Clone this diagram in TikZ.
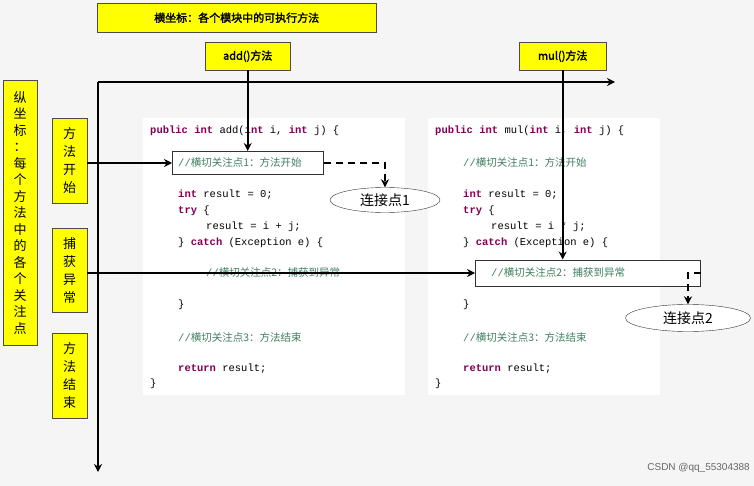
\documentclass[tikz,border=0pt]{standalone}
\usepackage{fontspec}
\setmonofont{Liberation Mono}
\setmainfont{Liberation Sans}
\newfontfamily\cjk{Noto Sans CJK SC}
\newfontfamily\cjkb[FakeBold=2]{Noto Sans CJK SC}
\usetikzlibrary{arrows.meta,shapes.geometric}
\definecolor{kw}{RGB}{127,0,85}
\definecolor{cm}{RGB}{63,127,95}
\definecolor{yel}{RGB}{255,255,0}
\tikzset{
 ybox/.style={draw=black!70,fill=yel,inner sep=0pt,align=center,font=\cjkb\fontsize{11}{15}\selectfont},
 code/.style={anchor=west,inner sep=0pt,font=\ttfamily\fontsize{10.5}{12}\selectfont},
 cbox/.style={draw=black!80,line width=1pt,inner sep=0pt,anchor=west},
 ax/.style={line width=2pt,-{Stealth[length=8pt,width=8pt]}},
 dsh/.style={line width=2pt,dash pattern=on 7pt off 5pt,-{Stealth[length=8pt,width=8pt]}},
 ell/.style={ellipse,draw=black!80,fill=white,inner sep=0pt,font=\cjk\fontsize{14}{16}\selectfont}
}
\newcommand{\kw}[1]{\textcolor{kw}{\textbf{#1}}}
\newcommand{\cmt}[1]{\textcolor{cm}{//{\cjk #1}}}
\begin{document}
\begin{tikzpicture}[x=1pt,y=-1pt]
\useasboundingbox (0,0) rectangle (754,486);
\fill[black!4] (0,0) rectangle (754,486);
% top labels
\node[ybox,minimum width=279,minimum height=29,anchor=north west] (top) at (97,3) {横坐标：各个模块中的可执行方法};
\node[ybox,minimum width=85,minimum height=28,anchor=north west] (add) at (205,42) {add()方法};
\node[ybox,minimum width=87,minimum height=28,anchor=north west] (mul) at (519,42) {mul()方法};
\node[ybox,minimum width=34,minimum height=265,anchor=north west,font=\cjk\fontsize{13}{16.5}\selectfont] (left) at (3,80) {纵\\坐\\标\\：\\每\\个\\方\\法\\中\\的\\各\\个\\关\\注\\点};
\node[ybox,minimum width=35,minimum height=85,anchor=north west,font=\cjk\fontsize{13}{18}\selectfont] (s1) at (52,118) {方\\法\\开\\始};
\node[ybox,minimum width=35,minimum height=84,anchor=north west,font=\cjk\fontsize{13}{18}\selectfont] (s2) at (52,228) {捕\\获\\异\\常};
\node[ybox,minimum width=35,minimum height=85,anchor=north west,font=\cjk\fontsize{13}{18}\selectfont] (s3) at (52,333) {方\\法\\结\\束};
% code panels
\fill[white] (143,118) rectangle (405,395);
\fill[white] (428,118) rectangle (660,395);
% axes
\coordinate (o) at (98,82);
\coordinate (xe) at (615,82);
\coordinate (ye) at (98,472);
\draw[ax] (o) -- (xe);
\draw[ax] (o) -- (ye);
% panel 1
\node[code] at (150,131) {\kw{public} \kw{int} add(\kw{int} i, \kw{int} j) \{};
\node[cbox,minimum width=151,minimum height=23] (b1) at (172,163) {};
\node[code] at (178,163) {\cmt{横切关注点1：方法开始}};
\node[code] at (178,195) {\kw{int} result = 0;};
\node[code] at (178,211) {\kw{try} \{};
\node[code] at (206,227) {result = i + j;};
\node[code] at (178,243) {\} \kw{catch} (Exception e) \{};
\node[code] at (206,273) {\cmt{横切关注点2：捕获到异常}};
\node[code] at (178,305) {\}};
\node[code] at (178,337) {\cmt{横切关注点3：方法结束}};
\node[code] at (178,369) {\kw{return} result;};
\node[code] at (150,384) {\}};
% panel 2
\node[code] at (435,131) {\kw{public} \kw{int} mul(\kw{int} i, \kw{int} j) \{};
\node[code] at (463,163) {\cmt{横切关注点1：方法开始}};
\node[code] at (463,195) {\kw{int} result = 0;};
\node[code] at (463,211) {\kw{try} \{};
\node[code] at (491,227) {result = i * j;};
\node[code] at (463,243) {\} \kw{catch} (Exception e) \{};
\node[cbox,fill=white,minimum width=225,minimum height=26] (b2) at (475,273) {};
\node[code] at (491,273) {\cmt{横切关注点2：捕获到异常}};
\node[code] at (463,305) {\}};
\node[code] at (463,337) {\cmt{横切关注点3：方法结束}};
\node[code] at (463,369) {\kw{return} result;};
\node[code] at (435,384) {\}};
% connectors
\draw[ax] (add.south) -- (b1.north -| add.south);
\draw[ax] (mul.south) -- (b2.north -| mul.south);
\draw[ax] (s1.east |- b1.west) -- (b1.west);
\draw[ax] (s2.east |- b2.west) -- (b2.west);
\node[ell,minimum width=110,minimum height=25] (e1) at (385,200) {连接点1};
\node[ell,minimum width=125,minimum height=27] (e2) at (688,318) {连接点2};
\draw[dsh] (b1.east) -| (e1.north);
\draw[dsh] (b2.east) -| (e2.north);
\node[anchor=east,inner sep=0pt,text=black!60,font=\fontsize{10}{12}\selectfont] (cr) at (750,468) {CSDN @qq\_55304388};
\end{tikzpicture}
\end{document}
